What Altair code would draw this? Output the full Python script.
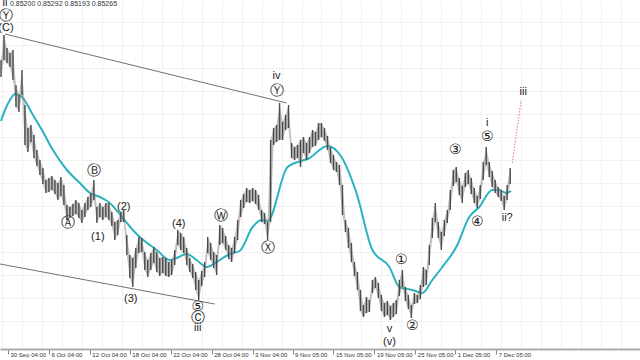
import json
import altair as alt
import pandas as pd

# ---- price bars (H4 OHLC, high / low) ----
high = [0.8640, 0.8665, 0.8652, 0.8647, 0.8650, 0.8615, 0.8605, 0.8630, 0.8595, 0.8572,
        0.8575, 0.8565, 0.8550, 0.8540, 0.8532, 0.8520, 0.8522, 0.8524, 0.8520, 0.8517,
        0.8523, 0.8515, 0.8495, 0.8493, 0.8496, 0.8500, 0.8497, 0.8490, 0.8497, 0.8503,
        0.8507, 0.8520, 0.8493, 0.8497, 0.8493, 0.8497, 0.8497, 0.8488, 0.8478, 0.8480,
        0.8488, 0.8490, 0.8465, 0.8445, 0.8442, 0.8452, 0.8463, 0.8462, 0.8448, 0.8440,
        0.8447, 0.8453, 0.8448, 0.8442, 0.8443, 0.8442, 0.8438, 0.8440, 0.8450, 0.8470,
        0.8467, 0.8463, 0.8452, 0.8442, 0.8436, 0.8428, 0.8420, 0.8429, 0.8438, 0.8463,
        0.8457, 0.8448, 0.8445, 0.8475, 0.8472, 0.8464, 0.8455, 0.8452, 0.8463, 0.8480,
        0.8500, 0.8506, 0.8512, 0.8510, 0.8512, 0.8510, 0.8505, 0.8490, 0.8487, 0.8478,
        0.8560, 0.8572, 0.8575, 0.8597, 0.8578, 0.8585, 0.8595, 0.8557, 0.8553, 0.8555,
        0.8560, 0.8563, 0.8557, 0.8563, 0.8570, 0.8568, 0.8577, 0.8577, 0.8572, 0.8564,
        0.8553, 0.8545, 0.8538, 0.8535, 0.8515, 0.8480, 0.8472, 0.8457, 0.8438, 0.8428,
        0.8410, 0.8395, 0.8403, 0.8400, 0.8420, 0.8423, 0.8417, 0.8405, 0.8397, 0.8399,
        0.8394, 0.8397, 0.8400, 0.8420, 0.8430, 0.8413, 0.8405, 0.8395, 0.8407, 0.8405,
        0.8415, 0.8433, 0.8430, 0.8455, 0.8482, 0.8497, 0.8478, 0.8468, 0.8480, 0.8490,
        0.8510, 0.8530, 0.8533, 0.8522, 0.8514, 0.8527, 0.8530, 0.8522, 0.8512, 0.8504,
        0.8515, 0.8538, 0.8553, 0.8538, 0.8529, 0.8520, 0.8513, 0.8510, 0.8504, 0.8515,
        0.8532]
low = [0.8623, 0.8640, 0.8637, 0.8633, 0.8620, 0.8593, 0.8588, 0.8605, 0.8555, 0.8548,
       0.8558, 0.8542, 0.8534, 0.8525, 0.8516, 0.8507, 0.8508, 0.8510, 0.8506, 0.8500,
       0.8504, 0.8495, 0.8480, 0.8482, 0.8484, 0.8486, 0.8482, 0.8477, 0.8483, 0.8490,
       0.8493, 0.8500, 0.8477, 0.8483, 0.8480, 0.8483, 0.8480, 0.8474, 0.8460, 0.8465,
       0.8478, 0.8478, 0.8445, 0.8422, 0.8413, 0.8432, 0.8447, 0.8448, 0.8430, 0.8423,
       0.8430, 0.8437, 0.8428, 0.8424, 0.8427, 0.8424, 0.8423, 0.8425, 0.8435, 0.8455,
       0.8450, 0.8447, 0.8435, 0.8428, 0.8422, 0.8410, 0.8400, 0.8414, 0.8423, 0.8447,
       0.8440, 0.8432, 0.8425, 0.8455, 0.8457, 0.8450, 0.8441, 0.8438, 0.8447, 0.8460,
       0.8483, 0.8492, 0.8498, 0.8497, 0.8499, 0.8496, 0.8490, 0.8478, 0.8476, 0.8460,
       0.8478, 0.8555, 0.8558, 0.8560, 0.8560, 0.8570, 0.8572, 0.8542, 0.8540, 0.8542,
       0.8533, 0.8547, 0.8540, 0.8547, 0.8553, 0.8554, 0.8560, 0.8563, 0.8559, 0.8550,
       0.8537, 0.8530, 0.8528, 0.8515, 0.8485, 0.8468, 0.8452, 0.8438, 0.8424, 0.8410,
       0.8389, 0.8383, 0.8387, 0.8388, 0.8407, 0.8412, 0.8402, 0.8389, 0.8383, 0.8385,
       0.8380, 0.8383, 0.8386, 0.8404, 0.8413, 0.8399, 0.8391, 0.8382, 0.8396, 0.8397,
       0.8401, 0.8413, 0.8415, 0.8435, 0.8462, 0.8478, 0.8462, 0.8450, 0.8464, 0.8477,
       0.8490, 0.8514, 0.8518, 0.8505, 0.8497, 0.8513, 0.8516, 0.8506, 0.8497, 0.8492,
       0.8501, 0.8520, 0.8535, 0.8523, 0.8513, 0.8507, 0.8503, 0.8499, 0.8490, 0.8500,
       0.8516]

# ---- moving average ----
ma_bar = [0, 1.33, 3, 4.67, 7, 10.67, 13.67, 17.33, 22, 26.33, 29.67, 33, 36.33, 40.67, 44,
          46.33, 52, 56.33, 58.67, 62, 65.33, 68.67, 72, 76.33, 79.67, 84, 87, 89, 95.67,
          103, 109, 113.67, 118.67, 124, 129.67, 133, 137.33, 140.67, 144, 147.33, 152,
          156.33, 159.67, 164, 166.33, 168.67, 170.33]
ma_price = [0.8579, 0.8590, 0.8600, 0.8606, 0.8603, 0.8585, 0.8570, 0.8550, 0.8530, 0.8517,
            0.8507, 0.8503, 0.8497, 0.8482, 0.8470, 0.8463, 0.8450, 0.8440, 0.8442, 0.8446,
            0.8440, 0.8433, 0.8438, 0.8446, 0.8449, 0.8473, 0.8480, 0.8479, 0.8533, 0.8542,
            0.8554, 0.8543, 0.8507, 0.8450, 0.8433, 0.8413, 0.8410, 0.8407, 0.8420, 0.8433,
            0.8453, 0.8483, 0.8493, 0.8510, 0.8510, 0.8507, 0.8509]

# ---- wave labels ----
circ_text = ["Ⓨ", "Ⓐ", "Ⓑ", "⑤", "Ⓒ", "Ⓦ", "Ⓧ", "Ⓨ", "①", "②", "③", "④", "⑤"]
circ_bar = [1.67, 22.33, 31, 65.67, 65.67, 73.33, 89, 92, 133.67, 137.33, 151.67, 159, 162.33]
circ_price = [0.8684, 0.8477, 0.8529, 0.8393, 0.8382, 0.8484, 0.8452, 0.8609, 0.8440,
              0.8374, 0.8550, 0.8478, 0.8563]

plain_text = ["ii", "(C)", "(1)", "(2)", "(3)", "(4)", "iii", "iv", "v", "(v)", "i", "ii?", "iii"]
plain_bar = [1.33, 1.67, 32.33, 41, 43.33, 59.33, 65.67, 92, 129.67, 129.67, 162.33, 169, 174.33]
plain_price = [0.8697, 0.8672, 0.8463, 0.8493, 0.8401, 0.8476, 0.8372, 0.8624, 0.8371,
               0.8358, 0.8577, 0.8482, 0.8608]

# ---- trend channel and projection ----
chan_id = ["upper", "upper", "lower", "lower"]
chan_bar = [1.33, 95.33, -0.33, 71.33]
chan_price = [0.8666, 0.8597, 0.8436, 0.8396]
proj_bar = [170.67, 173.67]
proj_price = [0.8537, 0.8600]

# ---- time axis ----
tick_bars = [2.33, 16, 29.67, 43, 56.67, 70.33, 84, 97.33, 111, 124.67, 138.33, 151.67, 165.33]
tick_labels = ["30 Sep 04:00", "6 Oct 04:00", "12 Oct 04:00", "18 Oct 04:00", "22 Oct 04:00",
               "28 Oct 04:00", "3 Nov 04:00", "9 Nov 05:00", "15 Nov 05:00", "19 Nov 05:00",
               "25 Nov 05:00", "1 Dec 05:00", "7 Dec 05:00"]
header = "0.85200 0.85292 0.85193 0.85265"

# ---------------------------------------------------------------
W, H = 640, 349
x_dom = [-1 / 3, 213.333]
y_dom = [0.8351, 0.8700]
xs = alt.Scale(domain=x_dom, nice=False, zero=False)
ys = alt.Scale(domain=y_dom, nice=False, zero=False)

grid_x = [(2 + 20 * k - 1) / 3 for k in range(32)]
grid_y = [0.8700 - (22 + 23 * k) / 10000 for k in range(14)]
GRID = "#f1f1f1"

label_expr = "{}[indexof({}, datum.value)]".format(json.dumps(tick_labels), json.dumps(tick_bars))
x_bottom = alt.Axis(values=tick_bars, labelExpr=label_expr, orient="bottom", grid=False,
                    title=None, labelFontSize=6, labelColor="#333333", labelFont="Liberation Sans",
                    labelAlign="left", labelBaseline="middle", labelPadding=0, labelOffset=2,
                    tickSize=5, tickColor="#888888", domainColor="#aaaaaa", domainWidth=2,
                    labelOverlap=False, labelFlush=False)
x_top = alt.Axis(values=grid_x, orient="top", grid=True, gridColor=GRID, labels=False,
                 ticks=False, domain=False, title=None)
y_ax = alt.Axis(values=grid_y, orient="right", grid=True, gridColor=GRID, labels=False,
                ticks=False, domain=False, title=None)

bars_df = pd.DataFrame({"bar": list(range(len(high))), "high": high, "low": low})
ma_df = pd.DataFrame({"bar": ma_bar, "price": ma_price})
circ_df = pd.DataFrame({"bar": circ_bar, "price": circ_price, "label": circ_text})
plain_df = pd.DataFrame({"bar": plain_bar, "price": plain_price, "label": plain_text})
chan_df = pd.DataFrame({"id": chan_id, "bar": chan_bar, "price": chan_price})
proj_df = pd.DataFrame({"bar": proj_bar, "price": proj_price})

band = alt.Chart(bars_df).mark_area(color="#8c8c8c", opacity=0.55).encode(
    x=alt.X("bar:Q", scale=xs, axis=None),
    y=alt.Y("low:Q", scale=ys, axis=y_ax),
    y2="high:Q",
)

bars = alt.Chart(bars_df).mark_rule(color="#4a4a4a", strokeWidth=1.4).encode(
    x=alt.X("bar:Q", scale=xs, axis=x_bottom),
    y=alt.Y("low:Q", scale=ys, axis=y_ax),
    y2="high:Q",
)

ma = alt.Chart(ma_df).mark_line(color="#2ab3bf", strokeWidth=2, interpolate="monotone").encode(
    x=alt.X("bar:Q", scale=xs, axis=x_top),
    y=alt.Y("price:Q", scale=ys, axis=y_ax),
)

chan = alt.Chart(chan_df).mark_line(color="#707070", strokeWidth=1).encode(
    x=alt.X("bar:Q", scale=xs, axis=None),
    y=alt.Y("price:Q", scale=ys, axis=y_ax),
    detail="id:N",
)

proj = alt.Chart(proj_df).mark_line(color="#e07a7a", strokeWidth=1, strokeDash=[1.5, 1.5]).encode(
    x=alt.X("bar:Q", scale=xs, axis=None),
    y=alt.Y("price:Q", scale=ys, axis=y_ax),
)

circ = alt.Chart(circ_df).mark_text(font="DejaVu Sans", fontSize=14, color="#222222").encode(
    x=alt.X("bar:Q", scale=xs, axis=None),
    y=alt.Y("price:Q", scale=ys, axis=y_ax),
    text="label:N",
)

plain = alt.Chart(plain_df).mark_text(font="Liberation Sans", fontSize=11, color="#222222").encode(
    x=alt.X("bar:Q", scale=xs, axis=None),
    y=alt.Y("price:Q", scale=ys, axis=y_ax),
    text="label:N",
)

head = alt.Chart(pd.DataFrame({"t": [header]})).mark_text(
    align="left", baseline="middle", fontSize=7, font="Liberation Sans", color="#333333",
    x=10, y=4
).encode(text="t:N")

chart = alt.layer(ma, band, bars, chan, proj, circ, plain, head).resolve_axis(
    x="independent"
).properties(
    width=W, height=H,
    padding={"left": 0, "right": 0, "top": 0, "bottom": 11},
    autosize=alt.AutoSizeParams(type="none"),
    background="white",
).configure_view(stroke=None)

chart.save("out.html", embed_options={"renderer": "svg", "actions": False})
